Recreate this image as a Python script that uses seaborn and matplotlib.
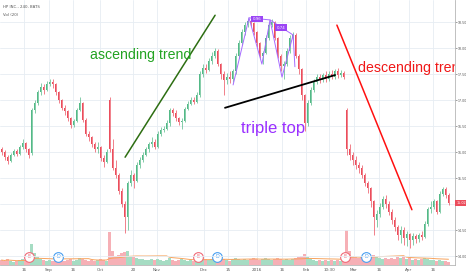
import numpy as np
import pandas as pd
import matplotlib
matplotlib.use("Agg")
import matplotlib.pyplot as plt
import matplotlib.transforms as mtransforms
import seaborn as sns

# ---------------- data (4h candles, HP INC.) ----------------
opens = [16.05,16.00,15.90,15.82,15.95,16.02,15.97,16.10,16.18,16.05,
         15.98,16.80,16.95,17.15,17.25,17.20,17.30,17.35,17.30,17.15,
         17.00,16.85,16.78,16.65,16.52,16.60,16.80,16.95,16.62,16.35,
         16.28,16.15,16.05,16.10,15.88,15.80,17.00,16.05,15.70,15.55,
         15.25,15.00,14.75,15.40,15.55,15.45,15.75,15.85,15.95,16.05,
         16.15,16.20,16.10,16.35,16.42,16.45,16.55,16.80,16.75,16.65,
         16.58,16.60,16.82,16.92,17.00,16.97,17.10,17.50,17.62,17.58,
         17.75,17.85,17.95,17.70,17.50,17.38,17.45,17.40,17.55,17.85,
         18.10,18.30,18.45,18.52,18.48,18.30,18.10,17.85,17.90,18.20,
         18.45,18.50,18.20,17.85,17.65,17.70,17.95,18.20,18.25,17.85,
         17.60,17.10,16.55,16.95,17.20,17.35,17.45,17.38,17.48,17.40,
         17.50,17.45,17.55,17.48,17.52,16.80,16.05,15.95,15.85,15.75,
         15.70,15.55,15.40,15.30,15.05,14.70,14.80,14.95,15.10,15.00,
         14.85,14.70,14.55,14.40,14.50,14.35,14.42,14.30,14.38,14.32,
         14.40,14.36,14.62,14.90,14.95,15.05,14.85,15.20,15.28,15.18]
closes = [16.00,15.90,15.82,15.95,16.02,15.97,16.10,16.18,16.05,15.95,
          16.80,16.95,17.15,17.25,17.20,17.30,17.35,17.30,17.15,17.00,
          16.85,16.78,16.65,16.52,16.60,16.80,16.95,16.62,16.35,16.28,
          16.15,16.05,16.10,15.88,15.80,16.00,16.05,15.70,15.55,15.25,
          15.00,14.75,15.40,15.55,15.45,15.75,15.85,15.95,16.05,16.15,
          16.20,16.10,16.35,16.42,16.45,16.55,16.80,16.75,16.65,16.58,
          16.60,16.82,16.92,17.00,16.97,17.10,17.50,17.62,17.58,17.75,
          17.85,17.95,17.70,17.50,17.38,17.45,17.40,17.55,17.85,18.10,
          18.30,18.45,18.52,18.48,18.30,18.10,17.85,17.90,18.20,18.45,
          18.50,18.20,17.85,17.65,17.70,17.95,18.20,18.25,17.85,17.60,
          17.10,16.55,16.95,17.20,17.35,17.45,17.38,17.48,17.40,17.50,
          17.45,17.55,17.48,17.52,17.45,16.05,15.95,15.85,15.75,15.70,
          15.55,15.40,15.30,15.05,14.75,14.80,14.95,15.10,15.00,14.85,
          14.70,14.55,14.40,14.50,14.35,14.42,14.30,14.38,14.32,14.40,
          14.36,14.62,14.90,14.95,15.05,14.85,15.20,15.28,15.18,15.02]
highs = [16.10,16.04,15.95,15.98,16.06,16.05,16.14,16.25,16.20,16.08,
         16.85,17.00,17.20,17.32,17.30,17.36,17.40,17.40,17.33,17.18,
         17.02,16.90,16.80,16.68,16.64,16.85,17.05,16.97,16.65,16.40,
         16.30,16.20,16.20,16.12,15.95,16.05,17.05,16.25,15.85,15.60,
         15.30,15.05,15.45,15.65,15.60,15.80,15.90,16.00,16.10,16.20,
         16.28,16.25,16.40,16.48,16.50,16.62,16.85,16.85,16.80,16.68,
         16.65,16.86,16.98,17.05,17.06,17.15,17.55,17.70,17.70,17.80,
         17.92,18.00,17.98,17.72,17.55,17.52,17.55,17.60,17.90,18.15,
         18.36,18.50,18.58,18.57,18.50,18.32,18.12,17.95,18.25,18.50,
         18.55,18.52,18.22,17.88,17.75,18.00,18.25,18.30,18.28,17.88,
         17.62,17.12,17.00,17.25,17.40,17.50,17.50,17.52,17.55,17.55,
         17.58,17.60,17.62,17.58,17.56,16.85,16.15,16.00,15.92,15.80,
         15.75,15.60,15.45,15.32,15.08,14.88,15.02,15.15,15.18,15.05,
         14.90,14.75,14.60,14.58,14.55,14.48,14.45,14.45,14.42,14.45,
         14.48,14.68,14.95,15.05,15.10,15.08,15.25,15.33,15.32,15.22]
lows = [15.95,15.85,15.76,15.80,15.92,15.93,15.95,16.06,16.00,15.88,
        15.95,16.75,16.90,17.10,17.12,17.18,17.26,17.24,17.10,16.95,
        16.80,16.72,16.60,16.46,16.48,16.58,16.78,16.58,16.30,16.22,
        16.10,16.00,15.98,15.82,15.72,15.78,16.00,15.65,15.50,15.20,
        14.95,14.44,14.50,15.35,15.30,15.42,15.70,15.80,15.92,16.00,
        16.10,16.05,16.08,16.30,16.38,16.42,16.50,16.70,16.60,16.52,
        16.45,16.58,16.80,16.90,16.92,16.95,17.05,17.45,17.52,17.55,
        17.70,17.80,17.65,17.40,17.10,17.30,17.32,17.35,17.50,17.80,
        18.05,18.25,18.40,18.42,18.25,18.02,17.80,17.70,17.88,18.15,
        18.40,18.15,17.80,17.55,17.40,17.65,17.90,18.15,17.80,17.50,
        17.00,16.40,16.50,16.90,17.15,17.30,17.32,17.35,17.35,17.36,
        17.40,17.40,17.42,17.45,17.40,15.95,15.85,15.75,15.68,15.60,
        15.50,15.35,15.22,14.95,14.40,14.55,14.75,14.90,14.92,14.78,
        14.62,14.48,14.30,14.25,14.22,14.20,14.15,14.22,14.25,14.26,
        14.30,14.34,14.58,14.82,14.90,14.80,14.82,15.15,15.12,14.98]
volumes = [5,4,6,4,3,4,5,6,4,5,
           21,12,8,6,5,4,5,4,5,6,
           5,4,5,6,4,5,7,6,5,4,
           5,4,5,6,5,4,33,14,9,10,
           12,13,14,9,8,7,6,6,5,5,
           6,5,6,5,4,5,7,5,4,5,
           6,5,4,5,4,5,9,7,6,5,
           6,5,7,8,6,5,4,6,7,6,
           5,6,5,6,7,6,5,6,7,6,
           5,6,7,6,5,6,5,6,7,8,
           9,11,8,6,5,4,5,4,5,4,
           5,4,5,4,6,35,14,9,8,7,
           8,7,8,9,10,8,7,6,7,6,
           7,6,8,7,9,6,7,5,6,5,
           6,7,6,5,5,4,5,4,4,3]
last_price = 15.02

xtick_pos = [7.5, 15.83, 23.83, 32.83, 43.83, 51.83, 67.5, 75.5, 85.17,
             93.5, 101.5, 109.17, 117.5, 125.83, 135.83, 143.83]
xtick_labels = ["16", "Sep", "16", "Oct", "20", "Nov", "Dec", "15", "2016",
                "16", "Feb", "10:30", "Mar", "16", "Apr", "16"]
ytick_values = [14.0, 14.5, 15.0, 15.5, 16.0, 16.5, 17.0, 17.5, 18.0, 18.5]

# events (E = earnings, D = dividend) : candle index
event_pos = [9.2, 18.8, 65.5, 71.8, 114.5, 121.5]
event_kind = ["E", "D", "E", "D", "E", "D"]

# drawings (candle index, price)
asc_line_x = [41.2, 71.2]; asc_line_y = [15.90, 18.63]
sup_line_x = [74.5, 111.2]; sup_line_y = [16.85, 17.48]
desc_line_x = [111.8, 136.8]; desc_line_y = [18.44, 14.89]
tt_path_x = [77.2, 82.5, 86.8, 89.5, 93.5, 97.2, 97.8]
tt_path_y = [17.29, 18.58, 17.69, 18.54, 17.44, 18.25, 17.64]
tt_tops_x = [82.5, 89.5, 97.2]
tt_tops_y = [18.58, 18.54, 18.25]
tt_ratio_x = [85.2, 93.2]
tt_ratio_y = [18.56, 18.39]
tt_ratio_txt = ["0.96", "0.74"]

# ---------------- style ----------------
sns.set_theme(style="white")
plt.rcParams['font.family'] = ['DejaVu Sans']

UP = "#53b987"
DOWN = "#eb4d5c"
GRID = "#e6edf3"
TXT = "#555555"

W, H = 466, 275
fig = plt.figure(figsize=(W / 100, H / 100), dpi=100)
rect = [0, 10 / H, 455 / W, 265 / H]
axv = fig.add_axes(rect)
ax = fig.add_axes(rect, sharex=axv)
ax.set_zorder(2)
ax.patch.set_visible(False)

idx = np.arange(len(closes))
o = np.array(opens); c = np.array(closes)
hi = np.array(highs); lo = np.array(lows)
up = c >= o
cols = np.where(up, UP, DOWN)

# volume pane
vol = np.array(volumes, dtype=float)
vcols = np.where(up, "#a6dcc3", "#f6b0b6")
axv.bar(idx, vol, width=0.75, color=vcols, linewidth=0)
vol_df = pd.DataFrame({"i": idx, "ma": pd.Series(vol).rolling(20, min_periods=1).mean()})
sns.lineplot(data=vol_df, x="i", y="ma", ax=axv, color="#f7a35c", lw=0.7)
axv.set_xlabel("")
axv.set_ylabel("")
for p, k in zip(event_pos, event_kind):
    col = "#f06a78" if k == "E" else "#4a9ff0"
    axv.plot([p], [8.5], marker="o", ms=7, mfc="white", mec=col, mew=0.8, zorder=5)
    axv.text(p, 8.5, k, color=col, fontsize=3.6, ha="center", va="center", zorder=6)
axv.set_ylim(0, 265)
axv.set_yticks([])
axv.set_facecolor("white")
for s in axv.spines.values():
    s.set_visible(False)

# grid (on volume axes which is underneath)
for xp in xtick_pos:
    axv.axvline(xp, color=GRID, lw=0.6, zorder=0)

# candles
ax.vlines(idx, lo, hi, colors=cols, lw=0.5, zorder=3)
ax.bar(idx, np.maximum(np.abs(c - o), 0.012), bottom=np.minimum(o, c),
       width=0.62, color=cols, linewidth=0, zorder=4)

ax.set_xlim(-0.5, -0.5 + 455 / 3)
ax.set_ylim(14 - 9 / 52, 14 + 256 / 52)
for yv in ytick_values:
    ax.axhline(yv, color=GRID, lw=0.6, zorder=0)

ax.yaxis.tick_right()
ax.set_yticks(ytick_values)
ax.set_yticklabels([f"{v:.2f}" for v in ytick_values])
ax.tick_params(axis="y", labelsize=2.3, colors=TXT, length=1.2, width=0.4, pad=0.6)
ax.set_xticks(xtick_pos)
ax.set_xticklabels(xtick_labels)
ax.tick_params(axis="x", labelsize=3, colors=TXT, length=0, pad=2.5)
for s in ["top", "left"]:
    ax.spines[s].set_visible(False)
ax.spines["right"].set_color("#b5b5b5"); ax.spines["right"].set_linewidth(0.6)
ax.spines["bottom"].set_color("#b5b5b5"); ax.spines["bottom"].set_linewidth(0.6)
axv.tick_params(axis="x", length=0)
plt.setp(axv.get_xticklabels(), visible=False)

# price tag
trans = mtransforms.blended_transform_factory(ax.transAxes, ax.transData)
ax.text(1.003, last_price, f"{last_price:.2f}", transform=trans, fontsize=2.4,
        color="white", ha="left", va="center", clip_on=False,
        bbox=dict(boxstyle="square,pad=0.3", fc=DOWN, ec="none"))

# drawings
ax.plot(asc_line_x, asc_line_y, color="#2d6e12", lw=1.1, zorder=6)
ax.plot(sup_line_x, sup_line_y, color="black", lw=1.3, zorder=6)
ax.plot(desc_line_x, desc_line_y, color="#ff1010", lw=1.1, zorder=6)
ax.plot(tt_path_x, tt_path_y, color="#a66bff", lw=0.7, zorder=6)
ax.plot(tt_tops_x, tt_tops_y, color="#a66bff", lw=0.7, zorder=6)
for xx, yy, tt in zip(tt_ratio_x, tt_ratio_y, tt_ratio_txt):
    ax.text(xx, yy, tt, fontsize=2.8, color="white", ha="center", va="center", zorder=7,
            bbox=dict(boxstyle="square,pad=0.35", fc="#9b45f5", ec="none"))

fam = ["Liberation Sans", "DejaVu Sans"]
ax.text(46.5, 17.86, "ascending trend", color="#22a322", fontsize=10.2,
        family=fam, ha="center", va="center", zorder=7)
ax.text(90.5, 16.46, "triple top", color="#9a30ff", fontsize=12,
        family=fam, ha="center", va="center", zorder=7)
ax.text(118.8, 17.62, "descending trend", color="#f01818", fontsize=10.2,
        family=fam, ha="left", va="center", zorder=7, clip_on=True)

fig.text(3 / W, 1 - 7 / H, "HP INC., 240, BATS", fontsize=2.8, color=TXT, va="center")
fig.text(3 / W, 1 - 15 / H, "Vol (20)", fontsize=2.8, color=TXT, va="center")

fig.savefig("out.png", dpi=100)
